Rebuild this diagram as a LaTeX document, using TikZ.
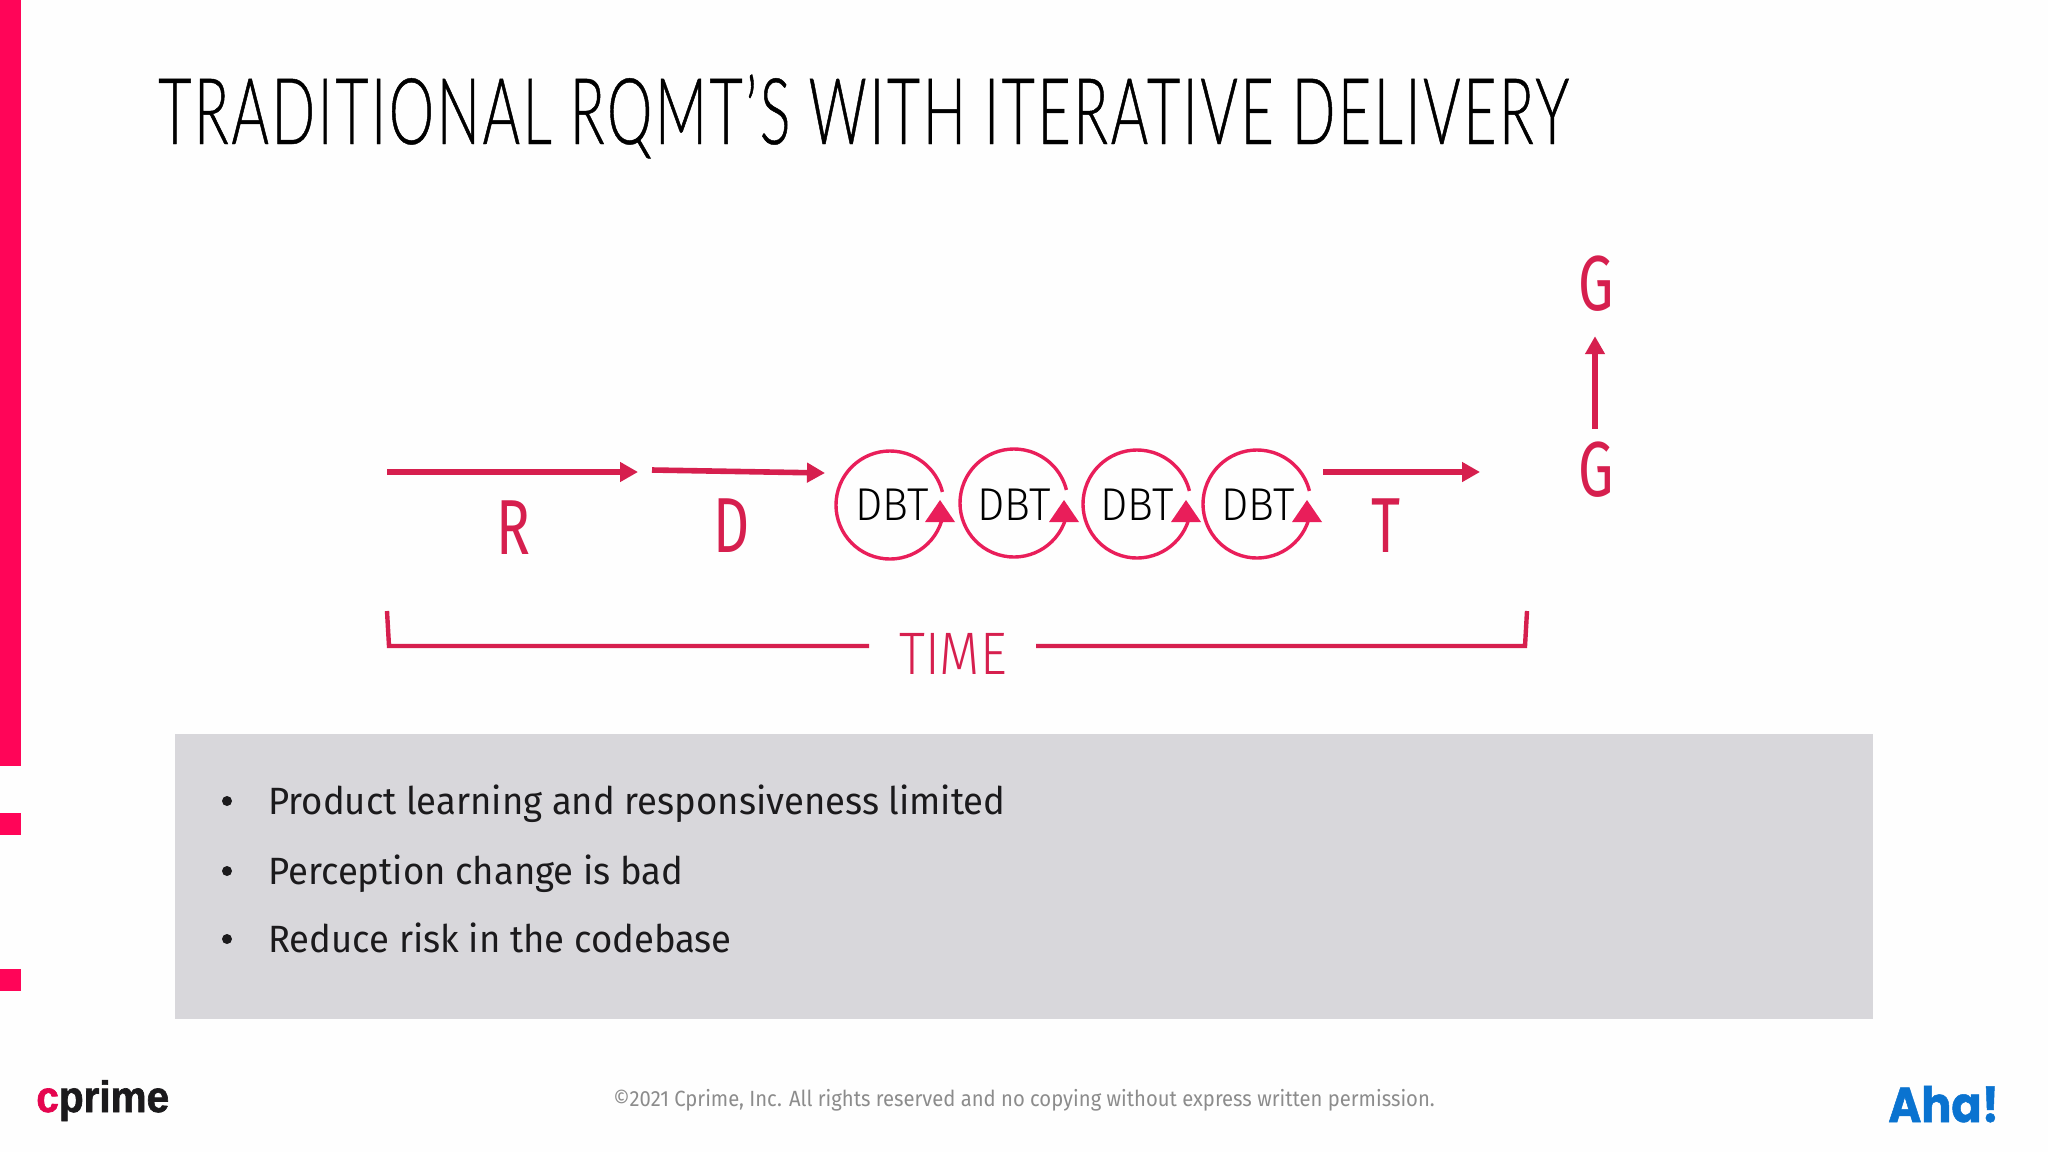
\documentclass[tikz,border=0pt]{standalone}
\usepackage{fontspec}
\usetikzlibrary{arrows.meta}
\setmainfont{Fira Sans}
\newfontfamily\titlefont[FakeStretch=0.62,LetterSpace=3.0,FakeBold=0.5]{Lato Light}
\newfontfamily\dinfont[FakeStretch=0.72]{Fira Sans}
\newfontfamily\timefont[FakeStretch=0.87]{Fira Sans Light}
\newfontfamily\dbtfont[FakeStretch=0.94]{Fira Sans Light}
\newfontfamily\bodyfont[FakeStretch=0.96]{Fira Sans}
\newfontfamily\footfont[FakeStretch=0.92]{Fira Sans}
\newfontfamily\logofont[FakeStretch=0.92,FakeBold=1.5]{Liberation Sans}
\newfontfamily\ahafont[FakeStretch=0.91,FakeBold=1]{Poppins}
\definecolor{barpink}{HTML}{FF0558}
\definecolor{linered}{HTML}{D61F4E}
\definecolor{looppink}{HTML}{E91E5A}
\definecolor{panelgrey}{HTML}{D8D7DB}
\definecolor{footgrey}{HTML}{8C8C8C}
\definecolor{ahablue}{HTML}{0A73D0}
\definecolor{inkblack}{HTML}{1B1A1C}
\tikzset{
  flow/.style={draw=linered,line width=2.8pt,-{Triangle[length=9pt,width=9.5pt]}},
  bracketline/.style={draw=linered,line width=2.2pt,line join=miter},
  letter/.style={text=linered,inner sep=0pt,font=\dinfont\fontsize{39}{39}\selectfont},
  dbtlabel/.style={text=black,inner sep=0pt,font=\dbtfont\fontsize{23}{23}\selectfont},
  looparc/.style={draw=looppink,line width=1.7pt},
  looptip/.style={fill=looppink,draw=none},
  bullettext/.style={anchor=base west,inner sep=0pt,text=inkblack,font=\bodyfont\fontsize{19}{19}\selectfont},
  dot/.style={circle,fill=inkblack,inner sep=0pt,minimum size=5pt},
}
\begin{document}
\begin{tikzpicture}[x=.5pt,y=-.5pt]
\useasboundingbox (0,0) rectangle (2048,1152);
\fill[white!99.5!black] (0,0) rectangle (2048,1152);
% sidebar
\fill[barpink] (0,0) rectangle (21,766);
\fill[barpink] (0,813) rectangle (21,835);
\fill[barpink] (0,969) rectangle (21,991);
% title
\node[anchor=base west,inner sep=0pt,text=black,font=\titlefont\fontsize{46}{46}\selectfont] (title) at (158,144) {TRADITIONAL RQMT’S WITH ITERATIVE DELIVERY};
% flow
\coordinate (r0) at (387,472); \coordinate (r1) at (638,472);
\coordinate (d0) at (652,470); \coordinate (d1) at (825,473);
\coordinate (t0) at (1323,472); \coordinate (t1) at (1480,472);
\draw[flow] (r0) -- (r1);
\draw[flow] (d0) -- (d1);
\draw[flow] (t0) -- (t1);
\node[letter] (lr) at (513,528) {R};
\node[letter] (ld) at (732,526) {D};
\node[letter] (lt) at (1386,526) {T};
\node[letter] (g1) at (1596,284) {G};
\node[letter] (g0) at (1596,470) {G};
\draw[flow] ([xshift=-.5pt,yshift=6.5pt]g0.north) -- ([xshift=-.5pt,yshift=-12pt]g1.south);
% loops
\foreach \n/\cx/\cy/\tx/\lx in {a/890/505/940/892,b/1014/503/1064/1014,c/1137/504/1186/1137,d/1257/504/1307/1258}{
  \coordinate (c\n) at (\cx,\cy);
  \draw[looparc] (c\n) ++(17:54) arc[start angle=17,end angle=346,radius=54];
  \fill[looptip] (\tx,500) -- (\tx+15,522) -- (\tx-15,522) -- cycle;
  \node[dbtlabel] (dbt\n) at (\lx,505) {DBT};
}
% time bracket
\node[text=linered,inner sep=0pt,font=\timefont\fontsize{30}{30}\selectfont] (time) at (953,654) {TIME};
\coordinate (bl0) at (387,611); \coordinate (bl1) at (389,646); \coordinate (bl2) at (869,646);
\coordinate (br0) at (1527,611); \coordinate (br1) at (1525,646); \coordinate (br2) at (1036,646);
\draw[bracketline] (bl0) -- (bl1) -- (bl2);
\draw[bracketline] (br0) -- (br1) -- (br2);
% panel
\fill[panelgrey] (175,734) rectangle (1873,1019);
\foreach \i/\by/\txt in {1/814/Product learning and responsiveness limited,2/884/Perception change is bad,3/952/Reduce risk in the codebase}{
  \node[dot] (dot\i) at (227,\by-13) {};
  \node[bullettext] (item\i) at (268,\by) {\txt};
}
% footer
\node[text=footgrey,inner sep=0pt,font=\footfont\fontsize{11}{12}\selectfont] (foot) at (1024,1100) {©2021 Cprime, Inc. All rights reserved and no copying without express written permission.};
\node[anchor=base west,inner sep=0pt,font=\logofont\bfseries\fontsize{22}{22}\selectfont] (cprime) at (36,1112) {\textcolor{barpink!90!black}{c}\textcolor{inkblack}{prime}};
\node[anchor=base west,inner sep=0pt,text=ahablue,font=\ahafont\bfseries\fontsize{24.5}{25}\selectfont] (aha) at (1888,1122) {Aha!};
\end{tikzpicture}
\end{document}
